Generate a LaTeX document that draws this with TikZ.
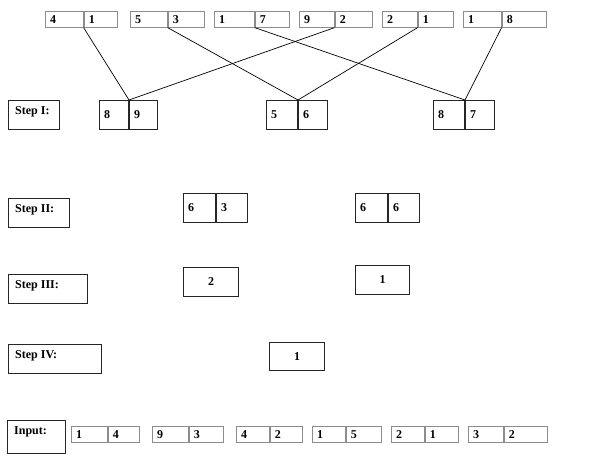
\documentclass[tikz,border=0pt]{standalone}
\usepackage{fontspec}
\setmainfont{Liberation Serif}
\usepackage{tikz}
\tikzset{
	cell/.style={rectangle,draw,inner sep=0pt,anchor=north west,line width=0.6pt},
	thin/.style={draw=black!45,minimum height=16},
	stepbox/.style={draw=black!85,line width=1pt,minimum height=29},
	digit/.style={anchor=west,inner xsep=5pt,inner ysep=0pt,font=\bfseries\fontsize{12}{14}\selectfont},
	labeltext/.style={anchor=north west,inner sep=0pt,font=\bfseries\fontsize{12}{14}\selectfont},
	wire/.style={draw=black,line width=0.7pt}
}
\newcommand{\cellpair}[7][]{\node[cell,#1,minimum width=#4] at (#2) (#3a) {};
	\node[cell,#1,minimum width=#5] at (#3a.north east) (#3b) {};
	\node[digit] at (#3a.west) (#3a-n) {#6};
	\node[digit] at (#3b.west) (#3b-n) {#7}}
\newcommand{\steplabel}[5]{\node[cell,stepbox,minimum width=#3,minimum height=#4] at (#1) (#2) {};
	\node[labeltext] at ([xshift=7pt,yshift=-6pt]#2.north west) (#2-t) {#5}}
\begin{document}
\begin{tikzpicture}[x=1pt,y=-1pt]
			\useasboundingbox (0,0) rectangle (589,470);
			
			\cellpair[thin]{45,11}{t1}{38}{33}{4}{1};
			\cellpair[thin]{130,11}{t2}{37}{36}{5}{3};
			\cellpair[thin]{214,11}{t3}{40}{34}{1}{7};
			\cellpair[thin]{299,11}{t4}{35}{37}{9}{2};
			\cellpair[thin]{382,11}{t5}{35}{35}{2}{1};
			\cellpair[thin]{463,11}{t6}{38}{44}{1}{8};
			
			\steplabel{8,100}{st1}{51}{29}{Step I:};
			\cellpair[stepbox]{99,100}{s1}{29}{28}{8}{9};
			\cellpair[stepbox]{266,100}{s2}{31}{29}{5}{6};
			\cellpair[stepbox]{433,100}{s3}{31}{29}{8}{7};
			
			\draw[wire] (t1a.south east) -- (s1a.north east);
			\draw[wire] (t4a.south east) -- (s1a.north east);
			\draw[wire] (t2a.south east) -- (s2a.north east);
			\draw[wire] (t5a.south east) -- (s2a.north east);
			\draw[wire] (t3a.south east) -- (s3a.north east);
			\draw[wire] (t6a.south east) -- (s3a.north east);
			
			\steplabel{8,198}{st2}{61}{29}{Step II:};
			\cellpair[stepbox]{183,193}{u1}{32}{31}{6}{3};
			\cellpair[stepbox]{355,193}{u2}{32}{31}{6}{6};
			
			\steplabel{8,274}{st3}{79}{29}{Step III:};
			\node[cell,stepbox,minimum width=55,font=\bfseries\fontsize{12}{14}\selectfont] at (183,267) (v1) {2};
			\node[cell,stepbox,minimum width=54,font=\bfseries\fontsize{12}{14}\selectfont] at (355,265) (v2) {1};
			
			\steplabel{8,344}{st4}{93}{29}{Step IV:};
			\node[cell,stepbox,minimum width=55,minimum height=28,font=\bfseries\fontsize{12}{14}\selectfont] at (269,342) (w1) {1};
			
			\steplabel{7,420}{in}{58}{33}{Input:};
			\cellpair[thin]{71,426}{i1}{36}{31}{1}{4};
			\cellpair[thin]{152,426}{i2}{36}{34}{9}{3};
			\cellpair[thin]{236,426}{i3}{33}{32}{4}{2};
			\cellpair[thin]{312,426}{i4}{33}{35}{1}{5};
			\cellpair[thin]{391,426}{i5}{33}{33}{2}{1};
			\cellpair[thin]{468,426}{i6}{35}{43}{3}{2};
			
			\end{tikzpicture}
\end{document}
